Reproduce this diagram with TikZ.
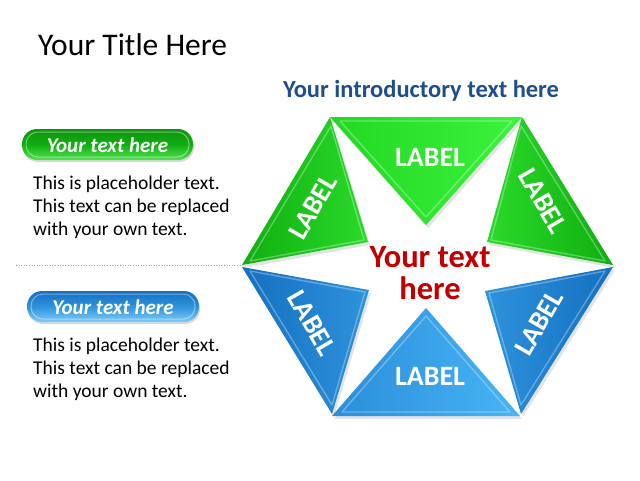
\documentclass[tikz,border=0pt]{standalone}
\usepackage{fontspec}
\setmainfont{Carlito}
\usetikzlibrary{shadows}
\definecolor{gdark}{HTML}{10AE10}
\definecolor{glight}{HTML}{2ADA2A}
\definecolor{gtop}{HTML}{22D822}
\definecolor{gtopl}{HTML}{3CF23C}
\definecolor{bdark}{HTML}{1470C0}
\definecolor{blight}{HTML}{2E92DC}
\definecolor{bbot}{HTML}{2A8EDA}
\definecolor{bbotl}{HTML}{48B4F6}
\definecolor{introblue}{HTML}{1F4E8C}
\definecolor{centred}{HTML}{C00000}
\tikzset{
  tri/.style={drop shadow={opacity=0.22,shadow xshift=2pt,shadow yshift=-3pt}},
  bevel/.style={draw=white,draw opacity=0.3,line width=1.4pt,line join=round},
  lbl/.style={text=white,font=\fontsize{28}{30}\selectfont\bfseries,inner sep=0pt},
  body/.style={font=\fontsize{19.5}{23}\selectfont,align=left,anchor=base west,inner sep=0pt},
  pill/.style={rounded corners=15pt,drop shadow={opacity=0.3,shadow xshift=1pt,shadow yshift=-2pt}},
  pilltext/.style={text=white,font=\fontsize{21}{22}\selectfont\bfseries\itshape,inner sep=0pt}
}
\begin{document}
\begin{tikzpicture}[x=1pt,y=-1pt]
\useasboundingbox (0,0) rectangle (640,480);
% title
\node[anchor=base west,inner sep=0pt,font=\fontsize{31.5}{33}\selectfont] (title) at (38,55) {Your Title Here};
\node[anchor=base,inner sep=0pt,text=introblue,font=\fontsize{24.5}{26}\selectfont\bfseries] (intro) at (421,97) {Your introductory text here};
% dotted separator
\coordinate (sepL) at (16,265);
\coordinate (sepR) at (241,265);
\draw[gray!70,dotted,line width=0.6pt] (sepL) -- (sepR);
% pills
\shade[pill,top color=gdark!85!black,bottom color=glight!80!white,middle color=gdark] (22,129) rectangle (193,160);
\draw[white,opacity=0.4,line width=1pt,rounded corners=12pt] (26,132) rectangle (189,157);
\node[pilltext] (p1) at (107.5,145) {Your text here};
\shade[pill,top color=bdark,bottom color=bbotl!70!white,middle color=blight] (27,291) rectangle (199,322);
\draw[white,opacity=0.4,line width=1pt,rounded corners=12pt] (31,294) rectangle (195,319);
\node[pilltext] (p2) at (113,307) {Your text here};
% body text
\node[body] (b1) at (33,235) {This is placeholder text.\\This text can be replaced\\with your own text.};
\node[body] (b2) at (33,397) {This is placeholder text.\\This text can be replaced\\with your own text.};
% triangles
\shade[tri,left color=gtop,right color=gtopl] (330,117) -- (522,117) -- (426,225) -- cycle;
\draw[bevel] (340,121) -- (512,121) -- (426,217) -- cycle;
\shade[tri,left color=gdark,right color=glight] (330,117) -- (242,265) -- (368,242) -- cycle;
\draw[bevel] (331,126) -- (250,261) -- (364,240) -- cycle;
\shade[tri,left color=glight,right color=gdark] (522,117) -- (613,265) -- (487,242) -- cycle;
\draw[bevel] (521,126) -- (605,261) -- (491,240) -- cycle;
\shade[tri,left color=bdark,right color=blight] (242,267) -- (369,290) -- (332,414) -- cycle;
\draw[bevel] (250,271) -- (365,292) -- (332,405) -- cycle;
\shade[tri,left color=bbot,right color=bbotl] (426,308) -- (332,416) -- (520,416) -- cycle;
\draw[bevel] (426,316) -- (342,412) -- (510,412) -- cycle;
\shade[tri,left color=blight,right color=bdark] (613,267) -- (485,291) -- (521,414) -- cycle;
\draw[bevel] (605,271) -- (489,293) -- (521,405) -- cycle;
% labels
\node[lbl] (lt) at (430,157) {LABEL};
\node[lbl,rotate=60] (ltl) at (313,207) {LABEL};
\node[lbl,rotate=-60] (ltr) at (543,201) {LABEL};
\node[lbl,rotate=-60] (lbl1) at (312,323) {LABEL};
\node[lbl,rotate=60] (lbr) at (539,323) {LABEL};
\node[lbl] (lb) at (430,376) {LABEL};
% center
\node[text=centred,font=\fontsize{32.5}{32}\selectfont\bfseries,align=center,inner sep=0pt,anchor=base] (center) at (430,299) {Your text\\here};
\end{tikzpicture}
\end{document}
